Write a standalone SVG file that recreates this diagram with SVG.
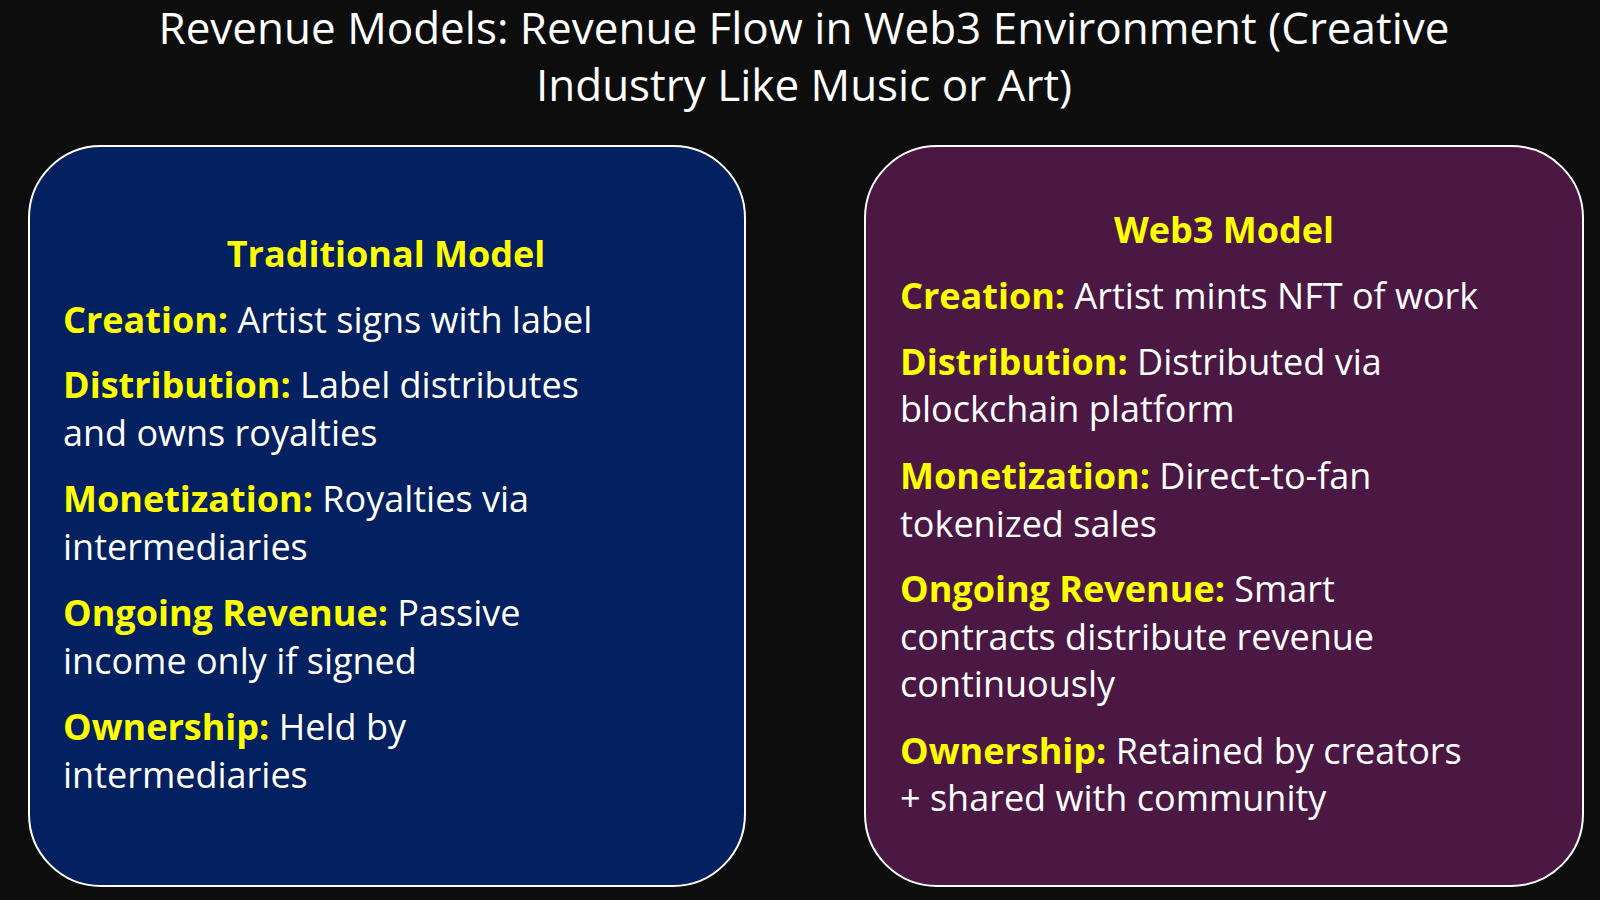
<svg xmlns="http://www.w3.org/2000/svg" width="1600" height="900" viewBox="0 0 1600 900">
<style>
.t{font-family:"Open Sans",Lato,sans-serif;font-size:36px;fill:#ffffff}
.k{font-weight:bold;fill:#ffff00}
.h{font-family:"Open Sans",Lato,sans-serif;font-size:36px;font-weight:bold;fill:#ffff00;text-anchor:middle}
.ti{font-family:"Open Sans",Lato,sans-serif;font-size:44px;fill:#ffffff;text-anchor:middle}
.box{stroke:#ffffff;stroke-width:2}
</style>
<rect width="1600" height="900" fill="#0d0d0d"/>
<g id="title">
<text class="ti" x="804" y="44">Revenue Models: Revenue Flow in Web3 Environment (Creative</text>
<text class="ti" x="804" y="101">Industry Like Music or Art)</text>
</g>
<g id="traditional">
<rect class="box" x="29" y="146" width="716" height="740" rx="72" fill="#032060"/>
<text class="h" x="386" y="267">Traditional Model</text>
<text class="t" x="63" y="333"><tspan class="k">Creation:</tspan> Artist signs with label</text>
<text class="t" x="63" y="398"><tspan class="k">Distribution:</tspan> Label distributes</text>
<text class="t" x="63" y="446">and owns royalties</text>
<text class="t" x="63" y="512"><tspan class="k">Monetization:</tspan> Royalties via</text>
<text class="t" x="63" y="560">intermediaries</text>
<text class="t" x="63" y="626"><tspan class="k">Ongoing Revenue:</tspan> Passive</text>
<text class="t" x="63" y="674">income only if signed</text>
<text class="t" x="63" y="740"><tspan class="k">Ownership:</tspan> Held by</text>
<text class="t" x="63" y="788">intermediaries</text>
</g>
<g id="web3">
<rect class="box" x="865" y="146" width="718" height="740" rx="72" fill="#4b1844"/>
<text class="h" x="1224" y="243">Web3 Model</text>
<text class="t" x="900" y="309"><tspan class="k">Creation:</tspan> Artist mints NFT of work</text>
<text class="t" x="900" y="375"><tspan class="k">Distribution:</tspan> Distributed via</text>
<text class="t" x="900" y="422">blockchain platform</text>
<text class="t" x="900" y="489"><tspan class="k">Monetization:</tspan> Direct-to-fan</text>
<text class="t" x="900" y="537">tokenized sales</text>
<text class="t" x="900" y="602"><tspan class="k">Ongoing Revenue:</tspan> Smart</text>
<text class="t" x="900" y="650">contracts distribute revenue</text>
<text class="t" x="900" y="697">continuously</text>
<text class="t" x="900" y="764"><tspan class="k">Ownership:</tspan> Retained by creators</text>
<text class="t" x="900" y="811">+ shared with community</text>
</g>
<g id="connectors"/>
</svg>
